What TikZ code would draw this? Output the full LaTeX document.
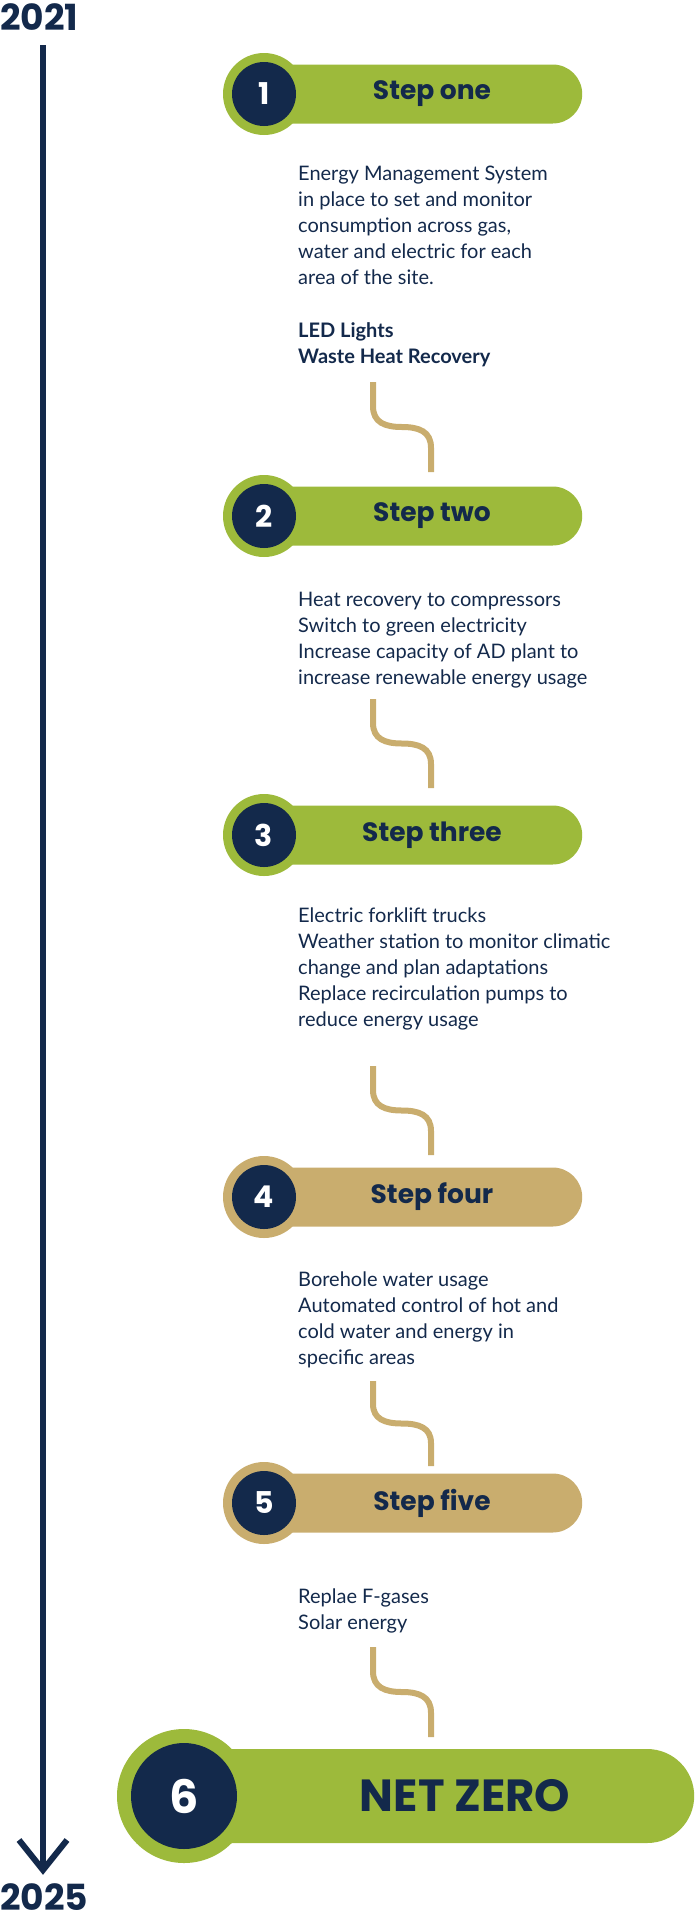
\documentclass[tikz,border=0pt]{standalone}
\usepackage{fontspec}
\setmainfont{Lato}
\newfontfamily\pop{Poppins}
\begin{document}
\definecolor{navy}{HTML}{13294B}
\definecolor{lime}{HTML}{9DBA3B}
\definecolor{tan}{HTML}{C9AD6E}
\begin{tikzpicture}[x=1pt,y=-1pt,
  pill/.style={fill=#1, rounded corners=29.5pt, minimum height=59pt, inner sep=0pt},
  outer/.style={circle, fill=#1, minimum size=82pt, inner sep=0pt},
  inner/.style={circle, fill=navy, minimum size=64pt, inner sep=0pt, text=white, font=\pop\fontsize{30}{30}\selectfont\bfseries},
  lbl/.style={text=navy, font=\pop\fontsize{26.5}{26.5}\selectfont\bfseries},
  body/.style={text=navy, anchor=north west, align=left, inner sep=0pt, font=\fontsize{20}{26}\selectfont},
  year/.style={text=navy, font=\pop\fontsize{36}{36}\selectfont\bfseries, inner sep=0pt},
  sq/.style={draw=tan, line width=6pt}]
\useasboundingbox (0,0) rectangle (694,1920);
% timeline
\node[year, anchor=base west] (y1) at (0,30) {2021};
\node[year, anchor=base west] (y2) at (0,1910) {2025};
\coordinate (at) at (43,45);
\coordinate (ab) at (43,1870);
\draw[navy, line width=6pt] (at) -- (ab);
\draw[navy, line width=6pt, line join=miter] (19,1840) -- (ab) -- (67,1840);
% steps
\foreach \n/\y/\c/\t in {1/94/lime/Step one, 2/516/lime/Step two, 3/835/lime/Step three, 4/1197/tan/Step four, 5/1503/tan/Step five}{
  \node[pill=\c, minimum width=320pt, anchor=west] (p\n) at (262,\y) {};
  \node[lbl] (l\n) at (432,\y) {\t};
  \node[outer=\c] (o\n) at (264,\y) {};
  \node[inner] (c\n) at (264,\y) {\n};
}
\node[pill=lime, minimum width=510pt, minimum height=94pt, rounded corners=47pt, anchor=west] (p6) at (184,1796) {};
\node[outer=lime, minimum size=134pt] (o6) at (184,1796) {};
\node[inner, minimum size=106pt, font=\pop\fontsize{46}{46}\selectfont\bfseries] (c6) at (184,1796) {6};
\node[lbl, font=\pop\fontsize{45}{45}\selectfont\bfseries] (l6) at (465,1796) {NET ZERO};
% texts
\node[body] (t1) at (298,166) {Energy Management System\\in place to set and monitor\\consumption across gas,\\water and electric for each\\area of the site.};
\node[body, font=\fontsize{20}{26}\selectfont\bfseries] (t1b) at (298,322) {LED Lights\\Waste Heat Recovery};
\node[body] (t2) at (298,592) {Heat recovery to compressors\\Switch to green electricity\\Increase capacity of AD plant to\\increase renewable energy usage};
\node[body] (t3) at (298,908) {Electric forklift trucks\\Weather station to monitor climatic\\change and plan adaptations\\Replace recirculation pumps to\\reduce energy usage};
\node[body] (t4) at (298,1272) {Borehole water usage\\Automated control of hot and\\cold water and energy in\\specific areas};
\node[body] (t5) at (298,1589) {Replae F-gases\\Solar energy};
% squiggles
\foreach \i/\a/\b in {1/382/472, 2/699/788, 3/1066/1155, 4/1381/1466, 5/1647/1737}{
  \coordinate (s\i a) at (373,\a);
  \coordinate (s\i b) at (431,\b);
  \pgfmathsetmacro{\h}{\b-\a}
  \draw[sq] (s\i a) -- (373,\a+0.27*\h) .. controls (373,\a+0.45*\h) and (385,\a+0.5*\h) .. (402,\a+0.5*\h)
     .. controls (419,\a+0.5*\h) and (431,\a+0.55*\h) .. (431,\a+0.73*\h) -- (s\i b);
}
\end{tikzpicture}
\end{document}
